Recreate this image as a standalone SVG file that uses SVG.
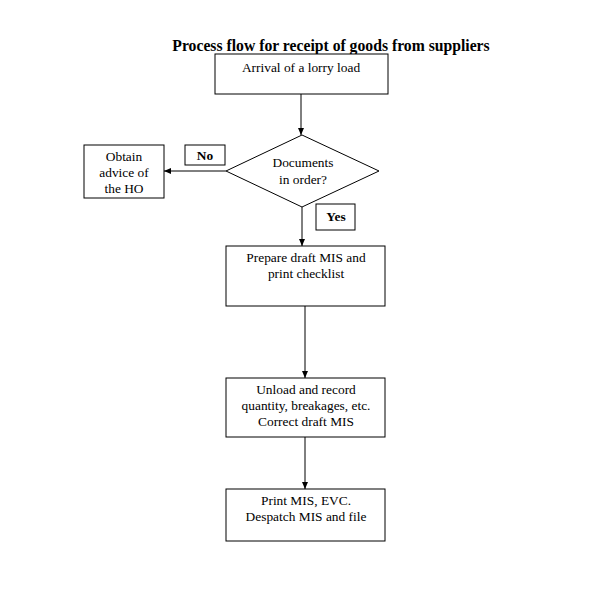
<svg xmlns="http://www.w3.org/2000/svg" width="600" height="600" viewBox="0 0 600 600">
<style>
.b{fill:#fff;stroke:#000;stroke-width:1}
.t{font-family:"Liberation Serif",serif;font-size:13.4px;text-anchor:middle;fill:#000}
.l{stroke:#000;stroke-width:1;fill:none;marker-end:url(#a)}
</style>
<defs><marker id="a" markerWidth="8" markerHeight="8" refX="7" refY="4" orient="auto" markerUnits="userSpaceOnUse"><path d="M0,1 L7,4 L0,7 Z" fill="#000"/></marker></defs>
<rect width="600" height="600" fill="#fff"/>
<text x="331" y="51" style="font-family:'Liberation Serif',serif;font-size:15.7px;font-weight:bold;text-anchor:middle">Process flow for receipt of goods from suppliers</text>
<g id="connectors">
<path class="l" d="M301,94 V135"/>
<path class="l" d="M302,207 V246"/>
<path class="l" d="M305,306 V378"/>
<path class="l" d="M305,437 V489"/>
<path class="l" d="M226,171 H164"/>
</g>
<g id="arrival"><rect class="b" x="215" y="54" width="173" height="40"/><text class="t" x="301" y="72">Arrival of a lorry load</text></g>
<g id="decision"><polygon class="b" points="302,135 379,171 302,207 226,171"/><text class="t" x="303" y="167">Documents</text><text class="t" x="303" y="184">in order?</text></g>
<g id="obtain"><rect class="b" x="84" y="145" width="80" height="53"/><text class="t" x="124" y="161">Obtain</text><text class="t" x="124" y="177">advice of</text><text class="t" x="124" y="193">the HO</text></g>
<g id="no"><rect class="b" x="185" y="145" width="40" height="20"/><text class="t" x="205" y="160" font-weight="bold">No</text></g>
<g id="yes"><rect class="b" x="316" y="204" width="39" height="26"/><text class="t" x="336" y="221" font-weight="bold">Yes</text></g>
<g id="prepare"><rect class="b" x="226" y="246" width="159" height="60"/><text class="t" x="306" y="262">Prepare draft MIS and</text><text class="t" x="306" y="278">print checklist</text></g>
<g id="unload"><rect class="b" x="226" y="378" width="159" height="59"/><text class="t" x="306" y="394">Unload and record</text><text class="t" x="306" y="410">quantity, breakages, etc.</text><text class="t" x="306" y="426">Correct draft MIS</text></g>
<g id="print"><rect class="b" x="226" y="489" width="159" height="52"/><text class="t" x="306" y="505">Print MIS, EVC.</text><text class="t" x="306" y="521">Despatch MIS and file</text></g>
</svg>
